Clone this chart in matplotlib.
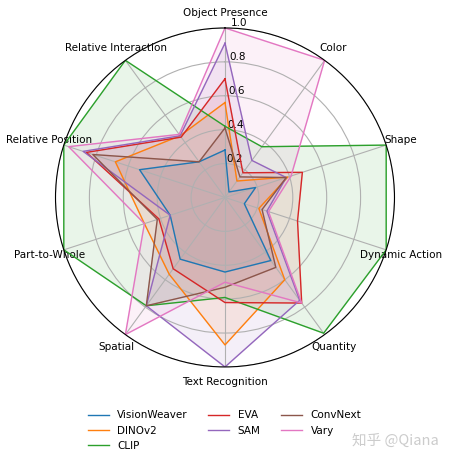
"""Radar chart comparing vision encoders across perception categories."""

import matplotlib

matplotlib.use("Agg")
import matplotlib.pyplot as plt
import numpy as np

categories = [
  "Object Presence",
  "Color",
  "Shape",
  "Dynamic Action",
  "Quantity",
  "Text Recognition",
  "Spatial",
  "Part-to-Whole",
  "Relative Position",
  "Relative Interaction",
]

model_names = ["VisionWeaver", "DINOv2", "CLIP", "EVA", "SAM", "ConvNext", "Vary"]

vision_weaver = [0.28, 0.04, 0.19, 0.12, 0.46, 0.44, 0.45, 0.34, 0.53, 0.26]
dinov2 = [0.56, 0.12, 0.39, 0.21, 0.60, 0.87, 0.56, 0.50, 0.68, 0.45]
clip = [0.42, 0.37, 1.00, 1.00, 0.99, 0.59, 0.79, 1.00, 1.00, 1.00]
eva = [0.70, 0.18, 0.48, 0.45, 0.77, 0.62, 0.52, 0.41, 0.86, 0.44]
sam = [0.91, 0.27, 0.38, 0.26, 0.75, 1.00, 0.79, 0.34, 0.88, 0.45]
convnext = [0.41, 0.15, 0.38, 0.23, 0.51, 0.53, 0.79, 0.42, 0.82, 0.26]
vary = [1.00, 1.00, 0.41, 0.27, 0.77, 0.50, 1.00, 0.50, 0.97, 0.46]

radial_ticks = [0.2, 0.4, 0.6, 0.8, 1.0]


def create_radar():
  series = [vision_weaver, dinov2, clip, eva, sam, convnext, vary]
  colors = ["C0", "C1", "C2", "C3", "C4", "C5", "C6"]

  n = len(categories)
  angles = np.linspace(0, 2 * np.pi, n, endpoint=False)
  closed = np.concatenate([angles, angles[:1]])

  fig = plt.figure(figsize=(4.49, 4.62), dpi=100)
  ax = fig.add_axes([0.1236, 0.2056, 0.755, 0.734], projection="polar")
  ax.set_theta_offset(np.pi / 2)
  ax.set_theta_direction(-1)

  for name, values, color in zip(model_names, series, colors):
    vals = np.concatenate([values, values[:1]])
    ax.plot(closed, vals, color=color, linewidth=1.0, label=name)
    ax.fill(closed, vals, color=color, alpha=0.1)

  ax.set_xticks(angles)
  ax.set_xticklabels(categories, fontsize=7.5)
  ax.set_ylim(0, 1)
  ax.set_yticks(radial_ticks)
  ax.set_yticklabels([f"{t:.1f}" for t in radial_ticks], fontsize=7.5)
  ax.set_rlabel_position(2)
  ax.tick_params(axis="x", pad=0.5)

  fig.legend(
    loc="upper center",
    bbox_to_anchor=(0.5, 0.132),
    ncol=3,
    frameon=False,
    fontsize=7.5,
  )

  # watermark from the source image
  fig.text(
    0.977,
    0.045,
    "知乎 @Qiana",
    ha="right",
    va="center",
    fontsize=10.5,
    color="#cccccc",
    family=["Noto Sans CJK SC", "DejaVu Sans"],
  )

  fig.savefig("out.png", dpi=100)
  plt.close(fig)


if __name__ == "__main__":
  create_radar()
